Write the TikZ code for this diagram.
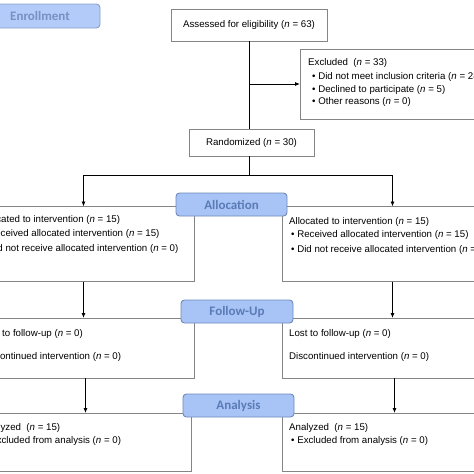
\documentclass[tikz,border=0pt]{standalone}
\usepackage{fontspec}
\setmainfont{Liberation Sans}
\newfontfamily\lblfont{Carlito}
\usetikzlibrary{arrows.meta}
\definecolor{lblfill}{HTML}{A8C4F6}
\definecolor{lbldraw}{HTML}{6E88B8}
\definecolor{lbltext}{HTML}{5B7BB6}
\definecolor{enrfill}{HTML}{B2CBF8}
\definecolor{enrtext}{HTML}{7890C2}
\definecolor{boxdraw}{HTML}{858585}
\begin{document}
\begin{tikzpicture}[x=1pt,y=-1pt,
  box/.style={draw=boxdraw,line width=0.8pt,fill=white,inner sep=0pt,outer sep=0pt,
    font=\fontsize{9.7}{12}\selectfont},
  lbl/.style={draw=lbldraw,fill=lblfill,line width=0.9pt,rounded corners=3.5pt,
    inner sep=0pt,outer sep=0pt,minimum height=23pt,text=lbltext,
    font=\lblfont\bfseries\fontsize{13}{15}\selectfont},
  txt/.style={inner sep=0pt,anchor=base west,font=\fontsize{9.7}{12}\selectfont},
  arr/.style={-{Latex[length=5pt,width=4pt]}},
  conn/.style={draw=black,line width=0.8pt}]
\useasboundingbox (0,0) rectangle (474,474);
\clip (0,0) rectangle (474,474);

% boxes
\node[box,minimum width=156pt,minimum height=32pt] (assess) at (249,25)
  {Assessed for eligibility (\textit{n} = 63)};
\node[box,minimum width=220pt,minimum height=70pt] (excl) at (410,84) {};
\node[box,minimum width=125pt,minimum height=27pt] (rand) at (251.5,142.5)
  {Randomized (\textit{n} = 30)};
\node[box,minimum width=221pt,minimum height=75pt] (allocL) at (83.5,244) {};
\node[box,minimum width=221pt,minimum height=75pt] (allocR) at (392.5,244) {};
\node[box,minimum width=221pt,minimum height=60pt] (fuL) at (83.5,348) {};
\node[box,minimum width=221pt,minimum height=60pt] (fuR) at (392.5,348) {};
\node[box,minimum width=218pt,minimum height=58pt] (anL) at (82,442) {};
\node[box,minimum width=221pt,minimum height=58pt] (anR) at (392.5,442) {};

% connectors
\coordinate (split) at (249,175);
\draw[conn] (assess.south) -- (assess.south |- rand.north);
\draw[conn,arr] (assess.south |- excl.west) -- (excl.west);
\draw[conn] (split |- rand.south) -- (split);
\draw[conn,arr] (split) -| (allocL.north);
\draw[conn,arr] (split) -| (allocR.north);
\draw[conn,arr] (allocL.south) -- (fuL.north);
\draw[conn,arr] (allocR.south) -- (fuR.north);
\draw[conn,arr] ([xshift=2pt]fuL.south) -- ([xshift=2pt]anL.north -| fuL.south);
\draw[conn,arr] ([xshift=2pt]fuR.south) -- ([xshift=2pt]anR.north);

% phase labels
\node[lbl,draw=lbldraw!80,fill=enrfill,text=enrtext,minimum width=120pt,minimum height=24pt] (enroll) at (40,16) {Enrollment};
\node[lbl,minimum width=111pt] (alloc) at (231.5,204.5) {Allocation};
\node[lbl,minimum width=112pt] (fu) at (237,311.5) {Follow-Up};
\node[lbl,minimum width=111pt] (an) at (238.5,405.5) {Analysis};

% excluded text
\node[txt] (ex1) at (308,65) {Excluded \ (\textit{n} = 33)};
\node[txt] (ex2) at (312,79) {•\ Did not meet inclusion criteria (\textit{n} = 28)};
\node[txt] (ex3) at (312,92) {•\ Declined to participate (\textit{n} = 5)};
\node[txt] (ex4) at (312,104) {•\ Other reasons (\textit{n} = 0)};

% allocation text
\node[txt] (al1) at (-20,222) {Allocated to intervention (\textit{n} = 15)};
\node[txt] (al2) at (-18,236) {•\ Received allocated intervention (\textit{n} = 15)};
\node[txt] (al3) at (-18,251) {•\ Did not receive allocated intervention (\textit{n} = 0)};
\node[txt] (ar1) at (289,224) {Allocated to intervention (\textit{n} = 15)};
\node[txt] (ar2) at (291,237) {•\ Received allocated intervention (\textit{n} = 15)};
\node[txt] (ar3) at (291,252) {•\ Did not receive allocated intervention (\textit{n} = 0)};

% follow-up text
\node[txt] (fl1) at (-19,336) {Lost to follow-up (\textit{n} = 0)};
\node[txt] (fl2) at (-19,359) {Discontinued intervention (\textit{n} = 0)};
\node[txt] (fr1) at (289,336) {Lost to follow-up (\textit{n} = 0)};
\node[txt] (fr2) at (289,359) {Discontinued intervention (\textit{n} = 0)};

% analysis text
\node[txt] (nl1) at (-19,430) {Analyzed \ (\textit{n} = 15)};
\node[txt] (nl2) at (-16,443) {•\ Excluded from analysis (\textit{n} = 0)};
\node[txt] (nr1) at (289,430) {Analyzed \ (\textit{n} = 15)};
\node[txt] (nr2) at (291,443) {•\ Excluded from analysis (\textit{n} = 0)};
\end{tikzpicture}
\end{document}
